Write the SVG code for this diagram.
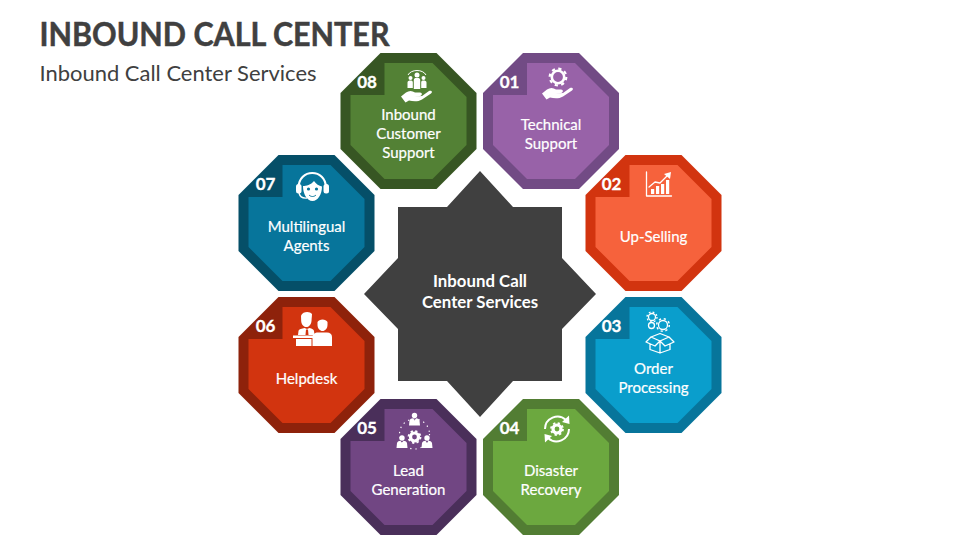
<svg xmlns="http://www.w3.org/2000/svg" width="960" height="540" viewBox="0 0 960 540">
<style>
text{font-family:"Lato","Carlito","Open Sans",sans-serif;fill:#fff;text-anchor:middle}
.title{fill:#404040;font-weight:700;font-size:33px;text-anchor:start;stroke:#404040;stroke-width:.5}
.sub{fill:#404040;font-size:22px;text-anchor:start}
.num{font-weight:700;font-size:17px;stroke:#fff;stroke-width:.3}
.lab{font-size:15px;stroke:#fff;stroke-width:.2}
.ctr{font-weight:700;font-size:16.800px}
.w{fill:#fff}
.s{fill:none;stroke:#fff;stroke-width:1.300;stroke-linejoin:round;stroke-linecap:round}
</style>
<defs>
<polygon id="oct" points="40,0 96,0 136,40 136,96 96,136 40,136 0,96 0,40"/>
<polygon id="inn" points="44,10 92,10 126,44 126,92 92,126 44,126 10,92 10,42 44,42"/>
<path id="hand" d="M0 9.500L5 5.500C8 3.500 11 3.500 14 5.500L19 5.500C21.500 5.500 21.500 8.500 19 9L13 9.500L21 9L28 4C30.500 3 32 5 30 6.500L21 12.500C17 15 12 14.500 8 13.500L4.500 15.500Z" fill="#fff"/>
<g id="gear">
<circle r="6.200" fill="none" stroke="#fff" stroke-width="2.600"/>
<circle r="8.300" fill="none" stroke="#fff" stroke-width="2.200" stroke-dasharray="3.200 3.320"/>
</g>
<g id="sgear">
<circle r="4" fill="none" stroke="#fff" stroke-width="3.200"/>
<circle r="6" fill="none" stroke="#fff" stroke-width="1.800" stroke-dasharray="2.300 2.410"/>
</g>
<g id="person">
<circle cy="-6" r="2.700" class="w"/>
<path d="M-5.500 4L-5 -1C-4.500 -2.700 -3 -3 -1.500 -3.200L0 -1L1.500 -3.200C3 -3 4.500 -2.700 5 -1L5.500 4Z" class="w"/>
</g>
</defs>

<text class="title" x="39.500" y="46" textLength="350" lengthAdjust="spacingAndGlyphs">INBOUND CALL CENTER</text>
<text class="sub" x="39.500" y="81" textLength="277" lengthAdjust="spacingAndGlyphs">Inbound Call Center Services</text>

<g id="connectors"></g>

<g id="center">
<polygon fill="#404040" points="480,171 513,207 562,207 562,258 596,294 562,329 562,381 513,381 480,417 447,381 398,381 398,329 364,294 398,258 398,207 447,207"/>
<text class="ctr" x="480" y="287">Inbound Call</text>
<text class="ctr" x="480" y="308">Center Services</text>
</g>

<g id="node-01">
<g transform="translate(483,53)"><use href="#oct" fill="#724B85"/><use href="#inn" fill="#9862A8"/>
<text class="num" x="26.500" y="34.500">01</text>
<text class="lab" x="68" y="77">Technical</text><text class="lab" x="68" y="96">Support</text></g>
<use href="#gear" transform="translate(558,77)"/>
<use href="#hand" transform="translate(542,84)"/>
</g>

<g id="node-02">
<g transform="translate(585.500,155)"><use href="#oct" fill="#D2340F"/><use href="#inn" fill="#F6623C"/>
<text class="num" x="26" y="34.500">02</text>
<text class="lab" x="68" y="87">Up-Selling</text></g>
<path class="s" stroke-linecap="butt" d="M646.500 172V196H671.500"/>
<path class="w" d="M651 189h3.200v5H651zM656 186h3.200v8H656zM661 184h3.200v10H661zM666 180h3.200v14H666z"/>
<path class="s" d="M649 187L655 182L660 183L667 176"/>
<path class="w" d="M671 172L670 179L664 174Z"/>
</g>

<g id="node-03">
<g transform="translate(585.500,297)"><use href="#oct" fill="#07759B"/><use href="#inn" fill="#0A9ECC"/>
<text class="num" x="26" y="34.500">03</text>
<text class="lab" x="68" y="77">Order</text><text class="lab" x="68" y="96">Processing</text></g>
<circle class="s" cx="652" cy="317" r="3.500"/><circle cx="652" cy="317" r="5" fill="none" stroke="#fff" stroke-width="1.300" stroke-dasharray="1.800 2.130"/>
<circle class="s" cx="651.500" cy="325.500" r="3"/>
<circle class="s" cx="663" cy="325" r="4.500"/><circle cx="663" cy="325" r="6.300" fill="none" stroke="#fff" stroke-width="1.500" stroke-dasharray="2.200 2.750"/>
<path class="s" d="M650 344V349.500L660 353L670 349.500V344M660 341V353M660 341L651 337L646 342L655 346ZM660 341L669 337L674 342L665 346ZM651 337L660 333.500L669 337"/>
</g>

<g id="node-04">
<g transform="translate(483,399)"><use href="#oct" fill="#527D33"/><use href="#inn" fill="#6CA83F"/>
<text class="num" x="26.500" y="34.500">04</text>
<text class="lab" x="68" y="77">Disaster</text><text class="lab" x="68" y="96">Recovery</text></g>
<use href="#sgear" transform="translate(557,429)"/>
<path d="M545 429A12.500 12.500 0 0 1 566 420M569 429A12.500 12.500 0 0 1 548 438" fill="none" stroke="#fff" stroke-width="2"/>
<path class="w" d="M569 415.500L569.500 424L562 422ZM545 442.500L544.500 434L552 436Z"/>
</g>

<g id="node-05">
<g transform="translate(340.500,399)"><use href="#oct" fill="#4A2F5A"/><use href="#inn" fill="#714683"/>
<text class="num" x="26.500" y="34.500">05</text>
<text class="lab" x="68" y="77">Lead</text><text class="lab" x="68" y="96">Generation</text></g>
<circle cx="414.500" cy="434" r="15" fill="none" stroke="#fff" stroke-width="1.200" stroke-dasharray="1.300 4"/>
<use href="#sgear" transform="translate(414.500,437)"/>
<use href="#person" transform="translate(414.500,421.500)"/>
<use href="#person" transform="translate(402,444)"/>
<use href="#person" transform="translate(427,444)"/>
</g>

<g id="node-06">
<g transform="translate(238.500,297)"><use href="#oct" fill="#8E220B"/><use href="#inn" fill="#D2340F"/>
<text class="num" x="27" y="34.500">06</text>
<text class="lab" x="68" y="87">Helpdesk</text></g>
<path class="w" d="M301 315.500C303 311 310 311 312 314L311.500 321C311 325 308.500 327 306.500 327C304 327 301.500 325 301.200 321Z"/>
<path class="w" d="M298 335L298.500 331C299 329 302 328.500 304.500 328L307 329L309.500 328C312 328.500 314 329.500 314 331L314.500 335Z"/>
<path d="M306 329.500H308L308.500 335H305.500Z" fill="#D2340F"/>
<path class="w" d="M293 335.500H313V338H293ZM296 339H311.500V346H296Z"/>
<path class="w" d="M317.500 322C319 318.500 326 318.500 327.500 322V325C327.500 328.500 325 331 322.500 331C320 331 317.500 328.500 317.500 325Z"/>
<path class="w" d="M312.500 337C312.500 334 315 332.500 318 332.500H327C330 332.500 332 334 332 337V346H312.500Z"/>
</g>

<g id="node-07">
<g transform="translate(238.500,155)"><use href="#oct" fill="#054F68"/><use href="#inn" fill="#07759B"/>
<text class="num" x="27" y="34.500">07</text>
<text class="lab" x="68" y="77">Multilingual</text><text class="lab" x="68" y="96">Agents</text></g>
<path d="M298.500 188C298.500 168 326 168 326 188" fill="none" stroke="#fff" stroke-width="2.200"/>
<rect x="296" y="184" width="5.500" height="9.500" rx="2.500" class="w"/>
<rect x="323.500" y="184" width="5.500" height="9.500" rx="2.500" class="w"/>
<path class="w" d="M303 186C306 186 311 185 314 181C316 184 319 186 322 186.500C322 194 318 201 312.500 201C307 201 303 194 303 186Z"/>
<circle cx="308.500" cy="189" r="1.600" fill="#07759B"/><circle cx="316.500" cy="189" r="1.600" fill="#07759B"/>
<path d="M309 195C311 197 314 197 316 195" fill="none" stroke="#07759B" stroke-width="1"/>
<path d="M299 193C300 197 303 198.500 307 198" fill="none" stroke="#fff" stroke-width="1.400"/>
</g>

<g id="node-08">
<g transform="translate(340.500,53)"><use href="#oct" fill="#375623"/><use href="#inn" fill="#538135"/>
<text class="num" x="26.500" y="34.500">08</text>
<text class="lab" x="68" y="67">Inbound</text><text class="lab" x="68" y="86">Customer</text><text class="lab" x="68" y="105">Support</text></g>
<path d="M408 75C411 69 423 69 426 75" fill="none" stroke="#fff" stroke-width="1"/>
<circle cx="410.500" cy="78" r="2" class="w"/><circle cx="423.500" cy="78" r="2" class="w"/>
<path class="w" d="M407.500 88V82.500C407.500 81 409 80.500 410.500 80.500C412 80.500 412.800 81 412.800 82.500V88ZM421.200 88V82.500C421.200 81 422 80.500 423.500 80.500C425 80.500 426.500 81 426.500 82.500V88Z"/>
<circle cx="417" cy="75" r="2.500" class="w"/>
<path class="w" d="M413.800 89V80C413.800 78.500 415 78 416 78H418C419 78 420.200 78.500 420.200 80V89Z"/>
<use href="#hand" transform="translate(401,87)"/>
</g>
</svg>
